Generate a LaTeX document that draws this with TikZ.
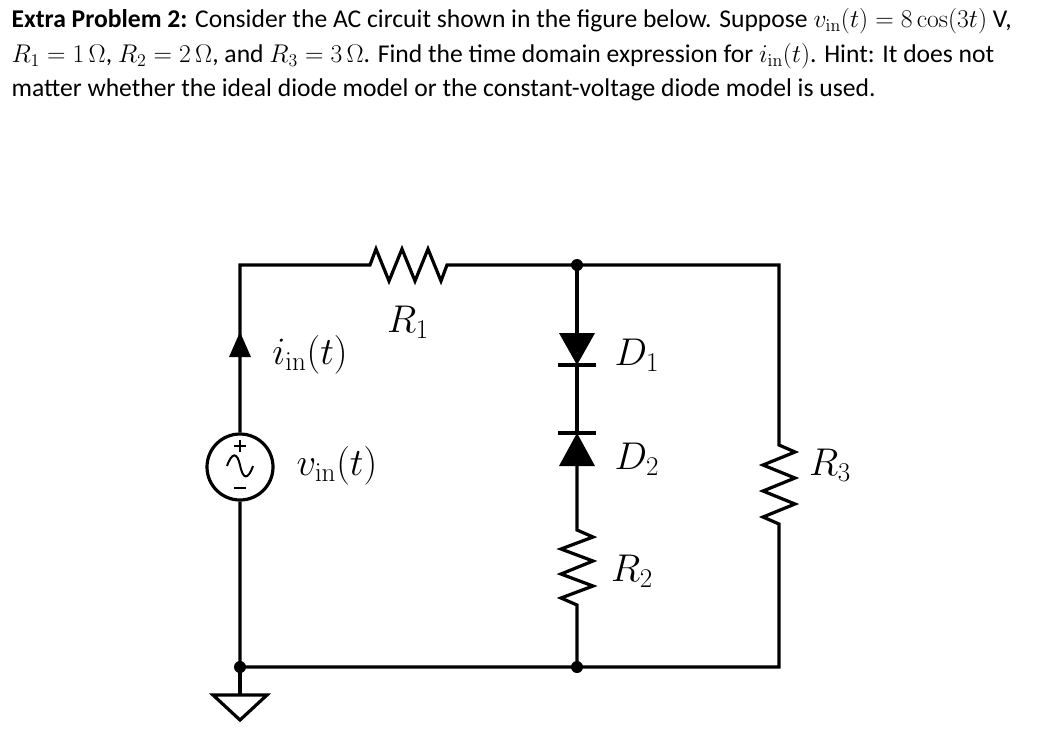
\documentclass[tikz,border=0pt]{standalone}
\usepackage{fix-cm}
\usepackage[no-math]{fontspec}
\setmainfont{Carlito}
\begin{document}
\begin{tikzpicture}[x=0.75pt,y=-0.75pt,line width=2.4pt,
  lbl/.style={font=\fontsize{29}{34}\selectfont,inner sep=0pt},
  hdr/.style={anchor=west,inner sep=0pt,font=\fontsize{19.2}{23}\selectfont},
  dot/.style={circle,fill,inner sep=0pt,minimum size=9pt}]
\useasboundingbox (0,0) rectangle (1050,744);
% header
\node[hdr] (h1) at (10,21) {\textbf{Extra Problem 2:} Consider the AC circuit shown in the figure below. Suppose $v_{\mathrm{in}}(t)=8\cos(3t)$ V,};
\node[hdr] (h2) at (10,56) {$R_1=1\,\Omega$, $R_2=2\,\Omega$, and $R_3=3\,\Omega$. Find the time domain expression for $i_{\mathrm{in}}(t)$. Hint: It does not};
\node[hdr] (h3) at (10,90) {matter whether the ideal diode model or the constant-voltage diode model is used.};
% coordinates
\coordinate (tl) at (240,265); \coordinate (tm) at (577,265); \coordinate (tr) at (779,265);
\coordinate (bl) at (240,667); \coordinate (bm) at (577,667); \coordinate (br) at (779,667);
\node[circle,draw,minimum size=49.5pt,inner sep=0pt] (src) at (240,467) {};
% wires with R1
\draw (src.north) -- (tl) -- (370,265) -- (376,249) -- (389,281) -- (402,249) -- (415,281) -- (428,249) -- (441,281) -- (447,265) -- (tm) -- (tr) -- (779,445) -- (795,452) -- (763,465) -- (795,478) -- (763,491) -- (795,504) -- (763,517) -- (779,524) -- (br) -- (bm) -- (bl) -- (src.south);
% middle branch
\draw (tm) -- (577,333);
\fill (559,333) -- (595,333) -- (577,365) -- cycle;
\draw (558,365) -- (596,365);
\draw (577,365) -- (577,433);
\draw (558,433) -- (596,433);
\fill (577,433) -- (595,466) -- (559,466) -- cycle;
\draw (577,466) -- (577,530) -- (593,537) -- (561,549) -- (593,561) -- (561,574) -- (593,586) -- (561,598) -- (577,605) -- (bm);
% source symbol
\draw[line width=1.5pt] (227,466) .. controls (232,452) and (237,452) .. (240,465) .. controls (243,480) and (248,480) .. (253,466);
\draw[line width=1.3pt] (240,440) -- (240,452) (234,446) -- (246,446) (234,488) -- (246,488);
% arrow
\fill (240,332) -- (251,357) -- (229,357) -- cycle;
% ground
\draw (bl) -- (240,695);
\draw (213,695) -- (267,695) -- (240,720) -- cycle;
% dots
\node[dot] (d1) at (tm) {}; \node[dot] (d2) at (bm) {}; \node[dot] (d3) at (bl) {};
% labels
\node[lbl] (lR1) at (408,322) {$R_1$};
\node[lbl] (li) at (310,355) {$i_{\mathrm{in}}(t)$};
\node[lbl] (lv) at (337,466) {$v_{\mathrm{in}}(t)$};
\node[lbl] (lD1) at (637,355) {$D_1$};
\node[lbl] (lD2) at (637,459) {$D_2$};
\node[lbl] (lR2) at (632,571) {$R_2$};
\node[lbl] (lR3) at (830,465) {$R_3$};
\end{tikzpicture}
\end{document}
